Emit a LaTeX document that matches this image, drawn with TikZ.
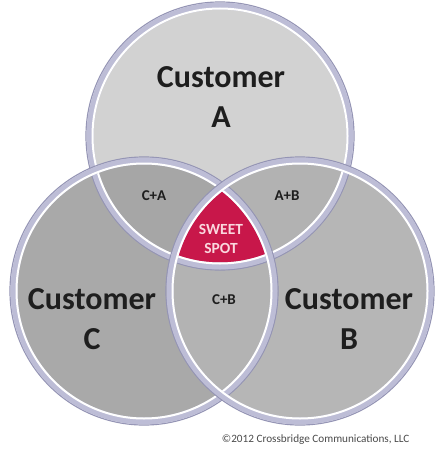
\documentclass[tikz,border=0pt]{standalone}
\usepackage{fontspec}
\setmainfont{Carlito}
\definecolor{fillA}{HTML}{D2D2D2}
\definecolor{fillB}{HTML}{B6B6B6}
\definecolor{fillC}{HTML}{A9A9A9}
\definecolor{fillCA}{HTML}{A6A6A6}
\definecolor{fillAB}{HTML}{B2B2B2}
\definecolor{fillCB}{HTML}{B3B3B3}
\definecolor{sweet}{HTML}{C8174A}
\definecolor{ringmid}{HTML}{BDBDD6}
\definecolor{ringdark}{HTML}{9494B4}
\definecolor{txt}{HTML}{1E1E1E}
\definecolor{copy}{HTML}{4A4A4A}
\tikzset{
  bigtext/.style={font=\fontsize{32}{40}\selectfont\bfseries, text=txt, align=center},
  smalltext/.style={font=\fontsize{15}{18}\selectfont\bfseries, text=txt},
  sweettext/.style={font=\fontsize{15.5}{18.5}\selectfont\bfseries, text={rgb,255:red,250;green,215;blue,222}, align=center},
}
\newcommand{\ringat}[2]{%
  \draw[ringdark, line width=1.2pt] #1 circle (#2+4);
  \draw[ringmid, line width=7pt] #1 circle (#2);
  \draw[white, line width=2pt] #1 circle (#2-2.5);
}
\begin{document}
\begin{tikzpicture}[x=1pt,y=-1pt]
\fill[white] (0,0) rectangle (446,452);
\useasboundingbox (0,0) rectangle (446,452);
\def\R{130}
\coordinate (ca) at (220,136);
\coordinate (cc) at (144,291);
\coordinate (cb) at (300,291);
% base fills
\fill[fillA] (ca) circle (\R);
\fill[fillC] (cc) circle (\R);
\fill[fillB] (cb) circle (\R);
% pair intersections
\begin{scope}
  \clip (ca) circle (\R);
  \fill[fillCA] (cc) circle (\R);
  \fill[fillAB] (cb) circle (\R);
\end{scope}
\begin{scope}
  \clip (cc) circle (\R);
  \fill[fillCB] (cb) circle (\R);
\end{scope}
% sweet spot
\begin{scope}
  \clip (ca) circle (\R);
  \clip (cc) circle (\R);
  \fill[sweet] (cb) circle (\R);
\end{scope}
% rings
\ringat{(ca)}{\R}
\ringat{(cc)}{\R}
\ringat{(cb)}{\R}
% labels
\node[bigtext] (la) at (221,97) {Customer\\A};
\node[bigtext] (lc) at (92,319) {Customer\\C};
\node[bigtext] (lb) at (349,319) {Customer\\B};
\node[smalltext] (lca) at (154,196) {C+A};
\node[smalltext] (lab) at (287,196) {A+B};
\node[smalltext] (lcb) at (224,300) {C+B};
\node[sweettext] (ls) at (221,239) {SWEET\\SPOT};
\node[font=\fontsize{11.2}{14}\selectfont, text=copy, anchor=east] (cp) at (413,440) {©2012 Crossbridge Communications, LLC};
\end{tikzpicture}
\end{document}
